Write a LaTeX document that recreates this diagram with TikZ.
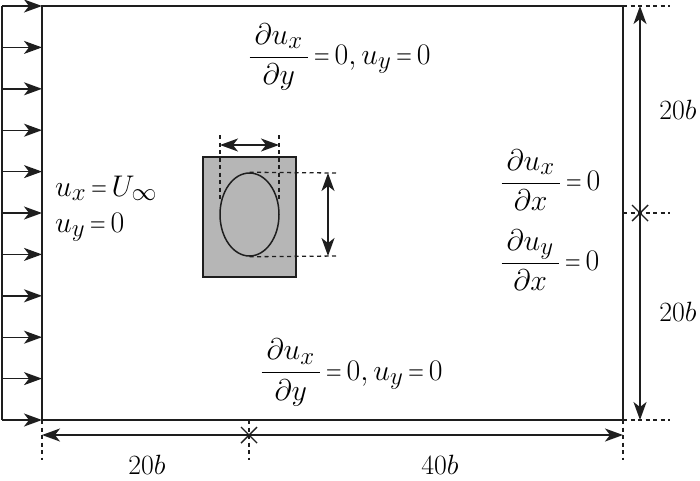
\documentclass[tikz,border=0pt]{standalone}
\usetikzlibrary{arrows.meta,shapes.geometric}
\definecolor{blockgray}{RGB}{182,182,182}
\definecolor{ink}{RGB}{30,30,30}
\newcommand{\eqbig}[1]{\scalebox{1.2}{$\displaystyle #1$}}
\newcommand{\dimtext}[1]{\scalebox{1.12}{$#1$}}
\newcommand{\eqsign}{\mathrel{\scalebox{0.72}[1]{$=$}}}
\begin{document}
\begin{tikzpicture}[x=1pt,y=-1pt,
  every node/.style={inner sep=0pt,font=\fontsize{24.88}{30}\selectfont},
  wall/.style={line width=1.5pt,ink},
  flow/.style={line width=1.4pt,ink,-{Stealth[length=18pt,width=13pt,inset=5pt]}},
  dim/.style={line width=1.4pt,ink,{Stealth[length=18pt,width=13pt,inset=5pt]}-{Stealth[length=18pt,width=13pt,inset=5pt]}},
  ext/.style={line width=1.3pt,ink,dash pattern=on 4pt off 3.5pt},
  cross/.style={line width=1.4pt,ink},
  block/.style={draw=ink,line width=1.5pt,fill=blockgray,minimum width=93pt,minimum height=120pt},
  hole/.style={ellipse,draw=ink,line width=1.5pt,minimum width=59pt,minimum height=83pt},
  lbl/.style={anchor=base west}]
\useasboundingbox (0,0) rectangle (700,480);
\thickmuskip=3mu plus 1mu

% domain
\coordinate (TL) at (42,6);
\coordinate (BR) at (623,420);
\coordinate (TR) at (623,6);
\coordinate (BL) at (42,420);
\draw[wall] (TL) rectangle (BR);

% inflow
\coordinate (in0) at (2,6);
\coordinate (in10) at (2,420);
\draw[wall] (in0) -- (in10);
\foreach \i in {0,...,10}{
  \coordinate (s\i) at (2,{6+41.4*\i});
  \coordinate (e\i) at (42,{6+41.4*\i});
  \draw[flow] (s\i) -- (e\i);
}

% block and hole
\node[block] (blk) at (249.5,217) {};
\node[hole] (hole) at (249.5,214.5) {};

% hole width dimension
\coordinate (hwa) at (220,135);
\coordinate (hwb) at (220,202);
\coordinate (hwc) at (279,135);
\coordinate (hwd) at (279,202);
\draw[ext] (hwa) -- (hwb);
\draw[ext] (hwc) -- (hwd);
\coordinate (hw1) at (220,145);
\coordinate (hw2) at (279,145);
\draw[dim] (hw1) -- (hw2);

% hole height dimension
\coordinate (hhe1) at (337,173);
\coordinate (hhe2) at (337,256);
\draw[ext] (hole.north) -- (hhe1);
\draw[ext] (hole.south) -- (hhe2);
\coordinate (hh1) at (328,173);
\coordinate (hh2) at (328,256);
\draw[dim] (hh1) -- (hh2);

% right dimension
\coordinate (rm) at (623,213);
\coordinate (rt2) at (670,6);
\coordinate (rm2) at (670,213);
\coordinate (rb2) at (670,420);
\draw[ext] (TR) -- (rt2);
\draw[ext] (rm) -- (rm2);
\draw[ext] (BR) -- (rb2);
\coordinate (r1) at (640,6);
\coordinate (r2) at (640,420);
\draw[dim] (r1) -- (r2);
\coordinate (rx) at (640,213);
\draw[cross] ([shift={(-8,-8)}]rx) -- ([shift={(8,8)}]rx);
\draw[cross] ([shift={(-8,8)}]rx) -- ([shift={(8,-8)}]rx);

% bottom dimension
\coordinate (bl2) at (42,460);
\coordinate (bmt) at (249,420);
\coordinate (bm2) at (249,460);
\coordinate (br2) at (623,460);
\draw[ext] (BL) -- (bl2);
\draw[ext] (bmt) -- (bm2);
\draw[ext] (BR) -- (br2);
\coordinate (b1) at (42,435);
\coordinate (b2) at (623,435);
\draw[dim] (b1) -- (b2);
\coordinate (bx) at (249,435);
\draw[cross] ([shift={(-8,-8)}]bx) -- ([shift={(8,8)}]bx);
\draw[cross] ([shift={(-8,8)}]bx) -- ([shift={(8,-8)}]bx);

% labels
\node (d1) at (147,465) {\dimtext{20b}};
\node (d2) at (440,465) {\dimtext{40b}};
\node (d3) at (678,110) {\dimtext{20b}};
\node (d4) at (678,312) {\dimtext{20b}};

\node[lbl] (topbc) at (248,64.5) {\eqbig{\frac{\,\partial u_x\,}{\partial y}\eqsign0,u_y\eqsign0}};
\node[lbl] (botbc) at (260,380) {\eqbig{\frac{\,\partial u_x\,}{\partial y}\eqsign0,u_y\eqsign0}};
\node[lbl] (inbc1) at (55,196) {\eqbig{u_x\eqsign U_\infty}};
\node[lbl] (inbc2) at (55,232) {\eqbig{u_y\eqsign0}};
\node[lbl] (outbc1) at (500,190.5) {\eqbig{\frac{\,\partial u_x\,}{\partial x}\eqsign0}};
\node[lbl] (outbc2) at (500,270.5) {\eqbig{\frac{\,\partial u_y\,}{\partial x}\eqsign0}};
\end{tikzpicture}
\end{document}
